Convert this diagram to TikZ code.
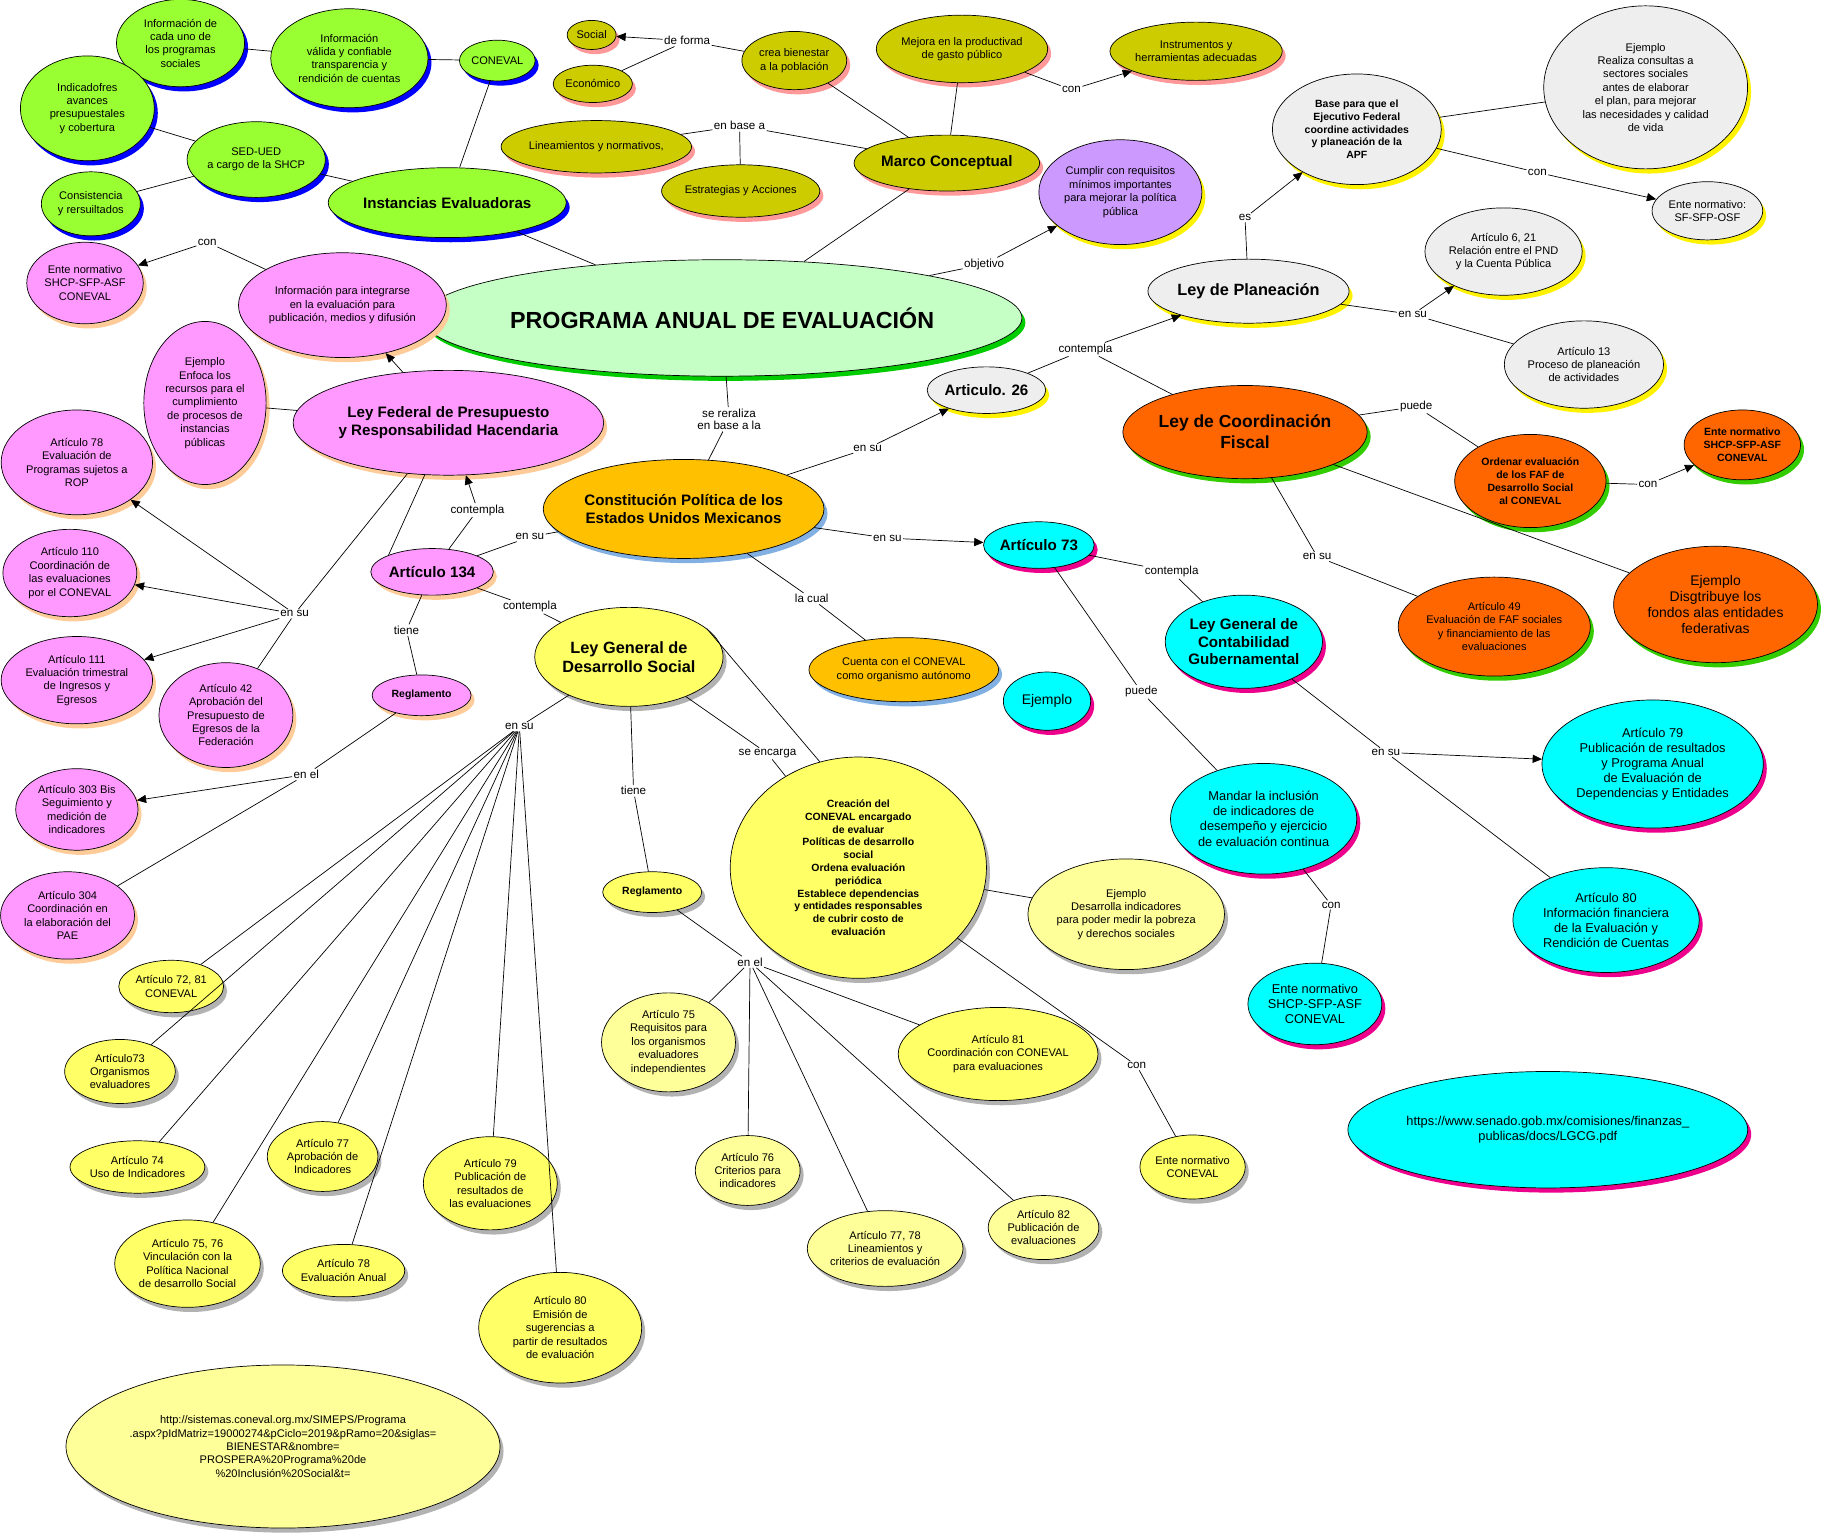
\documentclass[tikz,border=0pt]{standalone}
\usepackage{fontspec}
\setmainfont{Liberation Sans}
\usetikzlibrary{shapes.geometric, shadows, arrows.meta}
\definecolor{cGreen}{HTML}{99FF33}
\definecolor{cOlive}{HTML}{CCCC00}
\definecolor{cPink}{HTML}{FF99FF}
\definecolor{cGrey}{HTML}{EEEEEE}
\definecolor{cOrange}{HTML}{FF6600}
\definecolor{cCyan}{HTML}{00FFFF}
\definecolor{cYellow}{HTML}{FFFF66}
\definecolor{cLight}{HTML}{FFFF99}
\definecolor{cLav}{HTML}{CC99FF}
\definecolor{cAmber}{HTML}{FFC000}
\definecolor{cMain}{HTML}{C6FFC6}
\tikzset{
  bub/.style 2 args={ellipse, draw=black, fill=#1, inner sep=0pt, align=center,
    font=\fontsize{9.5}{11.5}\selectfont,
    drop shadow={shadow xshift=3pt, shadow yshift=-4pt, fill=#2, opacity=1}},
  sz/.style 2 args={minimum width=#1pt, minimum height=#2pt},
  big/.style={font=\fontsize{13}{15}\selectfont\bfseries},
  bf/.style={font=\fontsize{9}{11}\selectfont\bfseries},
  lb/.style={fill=white, inner sep=1pt, font=\fontsize{10}{11}\selectfont, align=center},
  arr/.style={-{Triangle[length=8pt,width=7pt]}}
}
\begin{document}
\begin{tikzpicture}[x=1pt, y=-1pt, line width=0.6pt]
        \useasboundingbox (0,0) rectangle (1567,1318);

        % Instancias evaluadoras
        \node[bub={cGreen}{blue}, sz={110}{75}] (infoProg) at (155,37) {Información de\\cada uno de\\los programas\\sociales};
        \node[bub={cGreen}{blue}, sz={135}{85}] (infoValida) at (300,50) {Información\\válida y confiable\\transparencia y\\rendición de cuentas};
        \node[bub={cGreen}{blue}, sz={65}{35}] (conevalG) at (427,52) {CONEVAL};
        \node[bub={cGreen}{blue}, sz={115}{90}] (indic) at (75,93) {Indicadofres\\avances\\presupuestales\\y cobertura};
        \node[bub={cGreen}{blue}, sz={110}{65}] (sed) at (220,137) {SED-UED\\a cargo de la SHCP};
        \node[bub={cGreen}{blue}, sz={85}{55}] (consist) at (78,175) {Consistencia\\y rersuiltados};
        \node[bub={cGreen}{blue}, sz={170}{60}, big] (inst) at (384,174) {Instancias Evaluadoras};

        % Marco conceptual
        \node[bub={cOlive}{pink!80!red}, sz={42}{25}] (social) at (508,30) {Social};
        \node[bub={cOlive}{pink!80!red}, sz={68}{32}] (econ) at (509,72) {Económico};
        \node[bub={cOlive}{pink!80!red}, sz={90}{50}] (bienestar) at (682,52) {crea bienestar\\a la población};
        \node[bub={cOlive}{pink!80!red}, sz={140}{58}] (mejora) at (826,42) {Mejora en la productivad\\de gasto público};
        \node[bub={cOlive}{pink!80!red}, sz={130}{50}] (instr) at (1027,44) {Instrumentos y\\herramientas adecuadas};
        \node[bub={cOlive}{pink!80!red}, sz={140}{45}] (lineam) at (512,126) {Lineamientos y normativos,};
        \node[bub={cOlive}{pink!80!red}, sz={120}{45}] (estrat) at (636,164) {Estrategias y Acciones};
        \node[bub={cOlive}{pink!80!red}, sz={140}{48}, big] (marco) at (813,140) {Marco Conceptual};
        \node[bub={cLav}{yellow}, sz={140}{90}] (cumplir) at (962,165) {Cumplir con requisitos\\mínimos importantes\\para mejorar la política\\pública};

        % PAE
        \node[bub={cMain}{green!80!black}, sz={400}{100}, font=\fontsize{20}{22}\selectfont\bfseries] (pae) at (620,273) {PROGRAMA ANUAL DE EVALUACIÓN};

        % Ley Federal de Presupuesto
        \node[bub={cPink}{orange!40}, sz={100}{70}] (entePink) at (73,243) {Ente normativo\\SHCP-SFP-ASF\\CONEVAL};
        \node[bub={cPink}{orange!40}, sz={165}{90}] (infoInt) at (294,262) {Información para integrarse\\en la evaluación para\\publicación, medios y difusión};
        \node[bub={cPink}{orange!40}, sz={105}{140}] (ejEnfoca) at (176,346) {Ejemplo\\Enfoca los\\recursos para el\\cumplimiento\\de procesos de\\instancias\\públicas};
        \node[bub={cPink}{orange!40}, sz={225}{90}, big] (lfprh) at (385,363) {Ley Federal de Presupuesto\\y Responsabilidad Hacendaria};
        \node[bub={cPink}{orange!40}, sz={130}{90}] (artA78) at (66,397) {Artículo 78\\Evaluación de\\Programas sujetos a\\ROP};
        \node[bub={cPink}{orange!40}, sz={115}{75}] (artA110) at (60,492) {Artículo 110\\Coordinación de\\las evaluaciones\\por el CONEVAL};
        \node[bub={cPink}{orange!40}, sz={130}{75}] (artA111) at (66,584) {Artículo 111\\Evaluación trimestral\\de Ingresos y\\Egresos};
        \node[bub={cPink}{orange!40}, sz={115}{90}] (artA42) at (194,614) {Artículo 42\\Aprobación del\\Presupuesto de\\Egresos de la\\Federación};
        \node[bub={cPink}{orange!40}, sz={105}{40}, big] (art134) at (371,491) {Artículo 134};
        \node[bub={cPink}{orange!40}, sz={85}{35}, bf] (reglA) at (362,597) {Reglamento};
        \node[bub={cPink}{orange!40}, sz={105}{70}] (artA303) at (66,695) {Artículo 303 Bis\\Seguimiento y\\medición de\\indicadores};
        \node[bub={cPink}{orange!40}, sz={115}{75}] (artA304) at (58,786) {Artículo 304\\Coordinación en\\la elaboración del\\PAE};

        % Constitucion
        \node[bub={cAmber}{cyan!60!blue!50}, sz={210}{85}, big] (const) at (587,437) {Constitución Política de los\\Estados Unidos Mexicanos};
        \node[bub={cAmber}{cyan!60!blue!50}, sz={145}{55}] (cuenta) at (776,575) {Cuenta con el CONEVAL\\como organismo autónomo};

        % Ley de Planeacion
        \node[bub={cGrey}{yellow}, sz={100}{40}, big] (art26) at (847,335) {Articulo. 26};
        \node[bub={cGrey}{yellow}, sz={145}{55}, font=\fontsize{14}{16}\selectfont\bfseries] (planea) at (1072,250) {Ley de Planeación};
        \node[bub={cGrey}{yellow}, sz={145}{95}, bf] (baseApf) at (1165,111) {Base para que el\\Ejecutivo Federal\\coordine actividades\\y planeación de la\\APF};
        \node[bub={cGrey}{yellow}, sz={175}{140}] (ejConsulta) at (1413,75) {Ejemplo\\Realiza consultas a\\sectores sociales\\antes de elaborar\\el plan, para mejorar\\las necesidades y calidad\\de vida};
        \node[bub={cGrey}{yellow}, sz={95}{50}] (enteSf) at (1466,181) {Ente normativo:\\SF-SFP-OSF};
        \node[bub={cGrey}{yellow}, sz={135}{75}] (art621) at (1291,216) {Artículo 6, 21\\Relación entre el PND\\y la Cuenta Pública};
        \node[bub={cGrey}{yellow}, sz={135}{75}] (art13) at (1360,313) {Artículo 13\\Proceso de planeación\\de actividades};

        % Ley de Coordinacion Fiscal
        \node[bub={cOrange}{green!60!olive}, sz={150}{80}, font=\fontsize{15}{18}\selectfont\bfseries] (lcf) at (1069,371) {Ley de Coordinación\\Fiscal};
        \node[bub={cOrange}{green!60!olive}, sz={130}{80}, bf] (ordenar) at (1314,413) {Ordenar evaluación\\de los FAF de\\Desarrollo Social\\al CONEVAL};
        \node[bub={cOrange}{green!60!olive}, sz={100}{60}, bf] (enteOrange) at (1496,382) {Ente normativo\\SHCP-SFP-ASF\\CONEVAL};
        \node[bub={cOrange}{green!60!olive}, sz={160}{85}] (art49) at (1283,538) {Artículo 49\\Evaluación de FAF sociales\\y financiamiento de las\\evaluaciones};
        \node[bub={cOrange}{green!60!olive}, sz={175}{100}, font=\fontsize{12}{14}\selectfont] (ejFondos) at (1473,519) {Ejemplo\\Disgtribuye los\\fondos alas entidades\\federativas};

        % Ley General de Contabilidad Gubernamental
        \node[bub={cCyan}{magenta}, sz={95}{40}, big] (art73) at (892,468) {Artículo 73};
        \node[bub={cCyan}{magenta}, sz={135}{80}, big] (lgcg) at (1068,551) {Ley General de\\Contabilidad\\Gubernamental};
        \node[bub={cCyan}{magenta}, sz={75}{50}, font=\fontsize{12}{14}\selectfont] (ejCyan) at (899,602) {Ejemplo};
        \node[bub={cCyan}{magenta}, sz={160}{95}, font=\fontsize{11}{13}\selectfont] (mandar) at (1085,703) {Mandar la inclusión\\de indicadores de\\desempeño y ejercicio\\de evaluación continua};
        \node[bub={cCyan}{magenta}, sz={115}{70}, font=\fontsize{11}{13}\selectfont] (enteCyan) at (1129,862) {Ente normativo\\SHCP-SFP-ASF\\CONEVAL};
        \node[bub={cCyan}{magenta}, sz={190}{110}, font=\fontsize{11}{13}\selectfont] (artC79) at (1419,656) {Artículo 79\\Publicación de resultados\\y Programa Anual\\de Evaluación de\\Dependencias y Entidades};
        \node[bub={cCyan}{magenta}, sz={160}{90}, font=\fontsize{11}{13}\selectfont] (artC80) at (1379,790) {Artículo 80\\Información financiera\\de la Evaluación y\\Rendición de Cuentas};
        \node[bub={cCyan}{magenta}, sz={330}{100}, font=\fontsize{11}{13}\selectfont] (urlLgcg) at (1329,970) {https://www.senado.gob.mx/comisiones/finanzas\_\\publicas/docs/LGCG.pdf};

        % Ley General de Desarrollo Social
        \node[bub={cYellow}{gray!60}, sz={150}{85}, font=\fontsize{14}{16}\selectfont\bfseries] (lgds) at (540,564) {Ley General de\\Desarrollo Social};
        \node[bub={cYellow}{gray!60}, sz={90}{45}] (artY7281) at (147,847) {Artículo 72, 81\\CONEVAL};
        \node[bub={cYellow}{gray!60}, sz={95}{55}] (artY73) at (103,920) {Artículo73\\Organismos\\evaluadores};
        \node[bub={cYellow}{gray!60}, sz={115}{45}] (artY74) at (118,1002) {Artículo 74\\Uso de Indicadores};
        \node[bub={cYellow}{gray!60}, sz={125}{75}] (artY7576) at (161,1085) {Artículo 75, 76\\Vinculación con la\\Política Nacional\\de desarrollo Social};
        \node[bub={cYellow}{gray!60}, sz={95}{60}] (artY77) at (277,993) {Artículo 77\\Aprobación de\\Indicadores};
        \node[bub={cYellow}{gray!60}, sz={105}{45}] (artY78) at (295,1091) {Artículo 78\\Evaluación Anual};
        \node[bub={cYellow}{gray!60}, sz={115}{80}] (artY79) at (421,1016) {Artículo 79\\Publicación de\\resultados de\\las evaluaciones};
        \node[bub={cYellow}{gray!60}, sz={140}{95}] (artY80) at (481,1140) {Artículo 80\\Emisión de\\sugerencias a\\partir de resultados\\de evaluación};
        \node[bub={cYellow}{gray!60}, sz={85}{35}, bf] (reglB) at (560,766) {Reglamento};
        \node[bub={cLight}{gray!60}, sz={115}{85}] (artR75) at (574,895) {Artículo 75\\Requisitos para\\los organismos\\evaluadores\\independientes};
        \node[bub={cLight}{gray!60}, sz={90}{60}] (artR76) at (642,1005) {Artículo 76\\Criterios para\\indicadores};
        \node[bub={cLight}{gray!60}, sz={130}{65}] (artR7778) at (760,1072) {Artículo 77, 78\\Lineamientos y\\criterios de evaluación};
        \node[bub={cLight}{gray!60}, sz={95}{55}] (artR82) at (896,1054) {Artículo 82\\Publicación de\\evaluaciones};
        \node[bub={cYellow}{gray!60}, sz={165}{80}] (artR81) at (857,905) {Artículo 81\\Coordinación con CONEVAL\\para evaluaciones};
        \node[bub={cYellow}{gray!60}, sz={220}{190}, bf] (creacion) at (737,745) {Creación del\\CONEVAL encargado\\de evaluar\\Políticas de desarrollo\\social\\Ordena evaluación\\periódica\\Establece dependencias\\y entidades responsables\\de cubrir costo de\\evaluación};
        \node[bub={cLight}{gray!60}, sz={165}{95}] (ejIndic) at (967,785) {Ejemplo\\Desarrolla indicadores\\para poder medir la pobreza\\y derechos sociales};
        \node[bub={cYellow}{gray!60}, sz={90}{55}] (enteYellow) at (1024,1002) {Ente normativo\\CONEVAL};
        \node[bub={cLight}{gray!60}, sz={325}{140}] (urlConeval) at (243,1242) {http://sistemas.coneval.org.mx/SIMEPS/Programa\\.aspx?pIdMatriz=19000274\&pCiclo=2019\&pRamo=20\&siglas=\\BIENESTAR\&nombre=\\PROSPERA\%20Programa\%20de\\\%20Inclusión\%20Social\&t=};

        % linking words
        \node[lb] (lForma) at (590,35) {de forma};
        \node[lb] (lConMej) at (920,77) {con};
        \node[lb] (lBase) at (635,108) {en base a};
        \node[lb] (lObj) at (845,227) {objetivo};
        \node[lb] (lConInt) at (178,208) {con};
        \node[lb] (lEnsuA) at (253,527) {en su};
        \node[lb] (lContA) at (410,438) {contempla};
        \node[lb] (lTieneA) at (349,541) {tiene};
        \node[lb] (lEnelA) at (263,665) {en el};
        \node[lb] (lRealiza) at (626,360) {se reraliza\\en base a la};
        \node[lb] (lEnsu134) at (455,461) {en su};
        \node[lb] (lEnsu26) at (745,385) {en su};
        \node[lb] (lEnsu73) at (762,462) {en su};
        \node[lb] (lCual) at (697,514) {la cual};
        \node[lb] (lContB) at (455,521) {contempla};
        \node[lb] (lCont26) at (932,300) {contempla};
        \node[lb] (lEs) at (1069,187) {es};
        \node[lb] (lConSf) at (1320,148) {con};
        \node[lb] (lEnsuP) at (1213,270) {en su};
        \node[lb] (lPuede) at (1216,349) {puede};
        \node[lb] (lConOr) at (1415,416) {con};
        \node[lb] (lEnsuF) at (1131,478) {en su};
        \node[lb] (lCont73) at (1006,491) {contempla};
        \node[lb] (lPuedeC) at (980,594) {puede};
        \node[lb] (lConC) at (1143,777) {con};
        \node[lb] (lEnsuC) at (1190,646) {en su};
        \node[lb] (lEnsuY) at (446,624) {en su};
        \node[lb] (lTieneB) at (544,679) {tiene};
        \node[lb] (lEnelB) at (644,826) {en el};
        \node[lb] (lEncarga) at (659,647) {se encarga};
        \node[lb] (lConY) at (976,915) {con};

        % connectors
        \draw (infoProg) -- (infoValida);
        \draw (infoValida) -- (conevalG);
        \draw (conevalG) -- (inst);
        \draw (indic) -- (sed);
        \draw (consist) -- (sed);
        \draw (sed) -- (inst);
        \draw (inst) -- (pae);
        \draw[arr] (bienestar) -- (lForma) -- (social);
        \draw (econ) -- (lForma);
        \draw (bienestar) -- (marco);
        \draw (mejora) -- (marco);
        \draw[arr] (mejora) -- (lConMej) -- (instr);
        \draw (marco) -- (lBase) -- (lineam);
        \draw (lBase) -- (estrat);
        \draw (marco) -- (pae);
        \draw[arr] (pae) -- (lObj) -- (cumplir);
        \draw[arr] (infoInt) -- (lConInt) -- (entePink);
        \draw[arr] (lfprh) -- (infoInt);
        \draw (ejEnfoca) -- (lfprh);
        \draw (lfprh) -- (lEnsuA) -- (artA42);
        \draw[arr] (lEnsuA) -- (artA78);
        \draw[arr] (lEnsuA) -- (artA110);
        \draw[arr] (lEnsuA) -- (artA111);
        \draw[arr] (art134) -- (lContA) -- (lfprh);
        \draw (art134.north west) -- (lfprh);
        \draw (art134) -- (lTieneA) -- (reglA);
        \draw[arr] (reglA) -- (lEnelA) -- (artA303);
        \draw (lEnelA) -- (artA304);
        \draw (pae) -- (lRealiza) -- (const);
        \draw (const) -- (lEnsu134) -- (art134);
        \draw[arr] (const) -- (lEnsu26) -- (art26);
        \draw[arr] (const) -- (lEnsu73) -- (art73);
        \draw (const) -- (lCual) -- (cuenta);
        \draw (art134) -- (lContB) -- (lgds);
        \draw[arr] (art26) -- (lCont26) -- (planea);
        \draw (lCont26) -- (lcf);
        \draw[arr] (planea) -- (lEs) -- (baseApf);
        \draw (baseApf) -- (ejConsulta);
        \draw[arr] (baseApf) -- (lConSf) -- (enteSf);
        \draw[arr] (planea) -- (lEnsuP) -- (art621);
        \draw (lEnsuP) -- (art13);
        \draw (lcf) -- (lPuede) -- (ordenar);
        \draw[arr] (ordenar) -- (lConOr) -- (enteOrange);
        \draw (lcf) -- (lEnsuF) -- (art49);
        \draw (lcf) -- (ejFondos);
        \draw (art73) -- (lCont73) -- (lgcg);
        \draw (art73) -- (lPuedeC) -- (mandar);
        \draw (mandar) -- (lConC) -- (enteCyan);
        \draw[arr] (lgcg) -- (lEnsuC) -- (artC79);
        \draw (lEnsuC) -- (artC80);
        \draw (lgds) -- (lEnsuY);
        \foreach \n in {artY7281, artY73, artY74, artY7576, artY77, artY78, artY79, artY80}
          \draw (lEnsuY) -- (\n);
        \draw (lgds) -- (lTieneB) -- (reglB);
        \draw (reglB) -- (lEnelB);
        \foreach \n in {artR75, artR76, artR7778, artR82, artR81}
          \draw (lEnelB) -- (\n);
        \draw (lgds) -- (lEncarga) -- (creacion);
        \draw (lgds.20) -- (creacion.110);
        \draw (creacion) -- (ejIndic);
        \draw (creacion) -- (lConY) -- (enteYellow);
\end{tikzpicture}
\end{document}
